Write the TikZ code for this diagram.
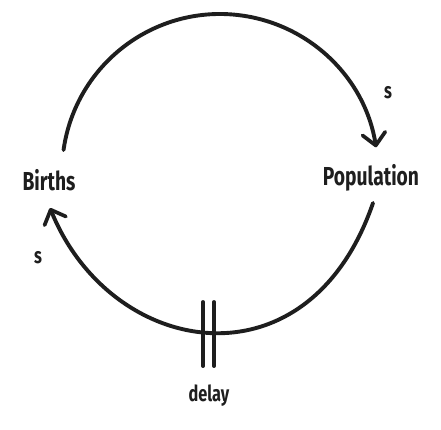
\documentclass[tikz,border=0pt]{standalone}
\usepackage{fontspec}
\setmainfont{Fira Sans}
\newfontfamily\handfont[FakeStretch=0.74]{Fira Sans}
\usetikzlibrary{arrows.meta,calc}
\definecolor{ink}{HTML}{1E1E1E}
\tikzset{
  loopline/.style={draw=ink, line width=3.9pt, line cap=round, line join=round},
  looptip/.style={-{Straight Barb[length=12pt,width=23pt,line width=3.7pt,round]}},
  bigtext/.style={text=ink, font=\handfont\bfseries\fontsize{26}{28}\selectfont, inner sep=0pt},
  smalltext/.style={text=ink, font=\handfont\bfseries\fontsize{22}{24}\selectfont, inner sep=0pt},
}
\begin{document}
\begin{tikzpicture}[x=1pt,y=-1pt]
\useasboundingbox (0,0) rectangle (441,429);
% labels
\node[bigtext] (births) at (49,180) {Births};
\node[bigtext] (pop) at (371,178) {Population};
\node[smalltext] (s1) at (388,93) {s};
\node[smalltext] (s2) at (38,258) {s};
\node[smalltext] (delay) at (209,396) {delay};
% top arc: Births -> Population
\coordinate (c) at (220,172);
\coordinate (topstart) at ($(c)+(188:158)$);
\draw[loopline, looptip] (topstart) arc[start angle=188, end angle=351, radius=158];
% bottom arc: Population -> Births
\coordinate (botstart) at (373,203);
\coordinate (botend) at (50,208);
\draw[loopline, looptip] (botstart) .. controls (308,392) and (111,358) .. (botend);
% delay marks
\coordinate (d1a) at (203,302);
\coordinate (d1b) at (203,366);
\coordinate (d2a) at (214,302);
\coordinate (d2b) at (214,366);
\draw[loopline] (d1a) -- (d1b);
\draw[loopline] (d2a) -- (d2b);
\end{tikzpicture}
\end{document}
